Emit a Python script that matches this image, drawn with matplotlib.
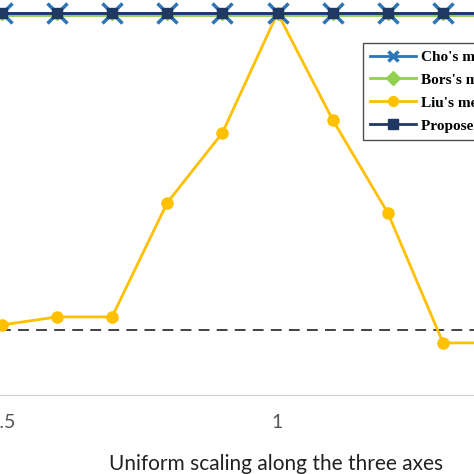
import matplotlib.pyplot as plt

scales = [0.5, 0.6, 0.7, 0.8, 0.9, 1.0, 1.1, 1.2, 1.3, 1.4]
cho = [100] * 10
bors = [99.4] * 10
liu = [18.3, 20.4, 20.4, 50.3, 68.6, 100, 72, 47.6, 13.6, 13.6]
proposed = [100] * 10
baseline = 17

fig = plt.figure(figsize=(4.74, 4.74), dpi=100)
ax = fig.add_axes([0, 0.167, 1, 0.833])

ax.axhline(baseline, color="#333333", lw=1.3, ls=(0, (6, 4)))
ax.plot(scales, liu, "-o", color="#FFC000", lw=2, ms=8, label="Liu's method", zorder=3)
ax.plot(scales, bors, "-D", color="#92D050", lw=2, ms=5, label="Bors's method", zorder=4)
ax.plot(scales, cho, "-x", color="#2E75B6", lw=2, ms=14, mew=2.5, label="Cho's method", zorder=5)
ax.plot(scales, proposed, "-s", color="#1F3864", lw=2, ms=7, label="Proposed method", zorder=6)

ax.set_xlim(0.497, 1.356)
ax.set_ylim(0, 103.4)
for s in ["top", "left", "right"]:
    ax.spines[s].set_visible(False)
ax.spines["bottom"].set_color("#d0d0d0")
ax.set_yticks([])
ax.set_xticks([0.5, 1.0])
ax.set_xticklabels(["0.5", "1"])
ax.tick_params(axis="x", length=0, pad=14, labelsize=14, labelcolor="#555555")
for t in ax.get_xticklabels():
    t.set_family("Lato")
ax.set_xlabel("Uniform scaling along the three axes", fontsize=15, family="Lato",
              color="#222222")
ax.xaxis.set_label_coords(0.583, -0.15)

h, l = ax.get_legend_handles_labels()
order = [2, 1, 0, 3]
leg = fig.legend([h[i] for i in order], [l[i] for i in order],
                 loc="upper left", bbox_to_anchor=(355 / 474, 1 - 35 / 474),
                 prop={"family": "Liberation Serif", "weight": "bold", "size": 11},
                 frameon=True, fancybox=False, edgecolor="#222222", borderpad=0.5,
                 handlelength=3, labelspacing=0.6, handletextpad=0.3)
for lh in leg.legend_handles:
    lh.set_markersize(7)
fig.savefig("out.png")
